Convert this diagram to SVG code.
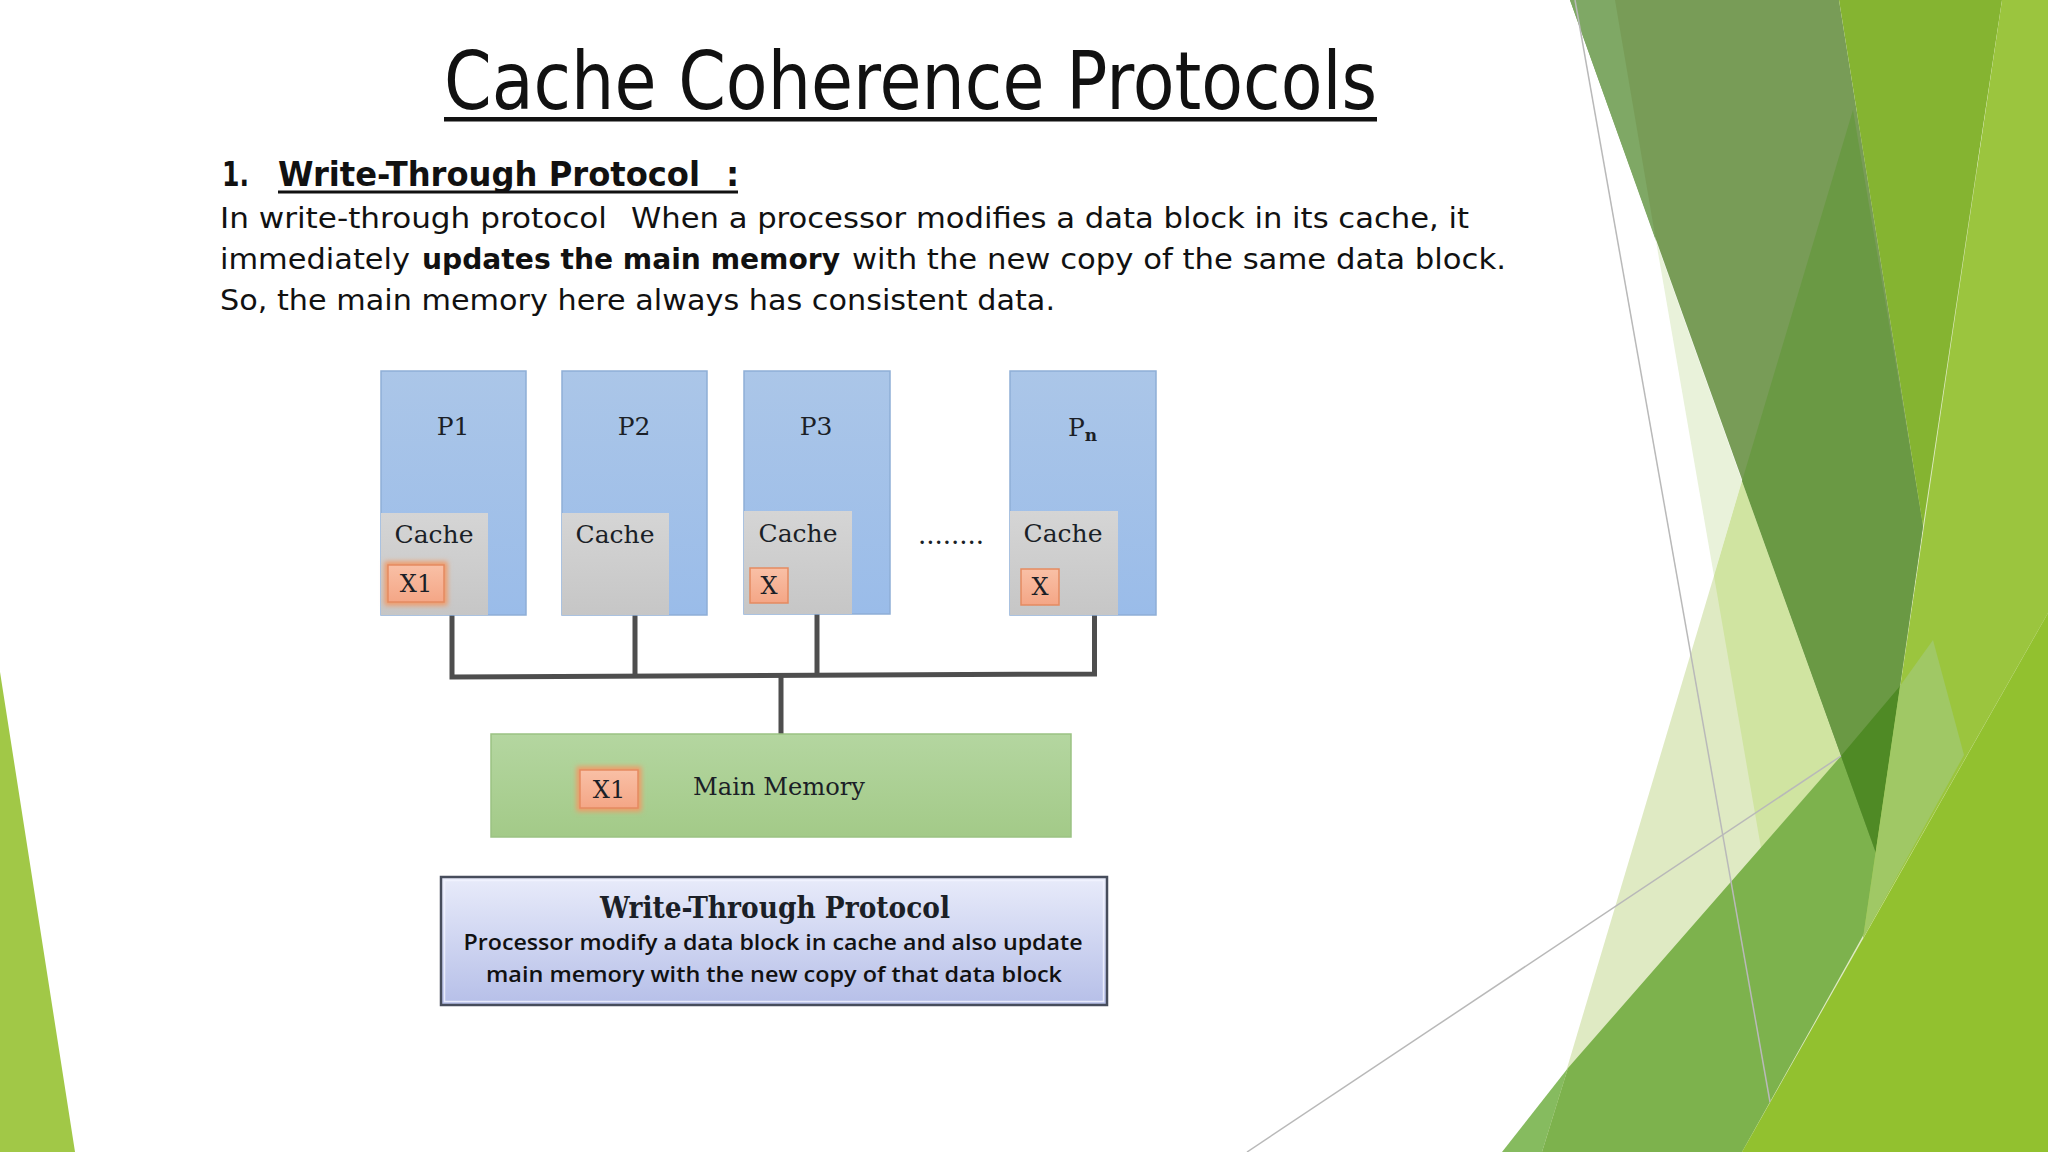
<svg xmlns="http://www.w3.org/2000/svg" width="2048" height="1152" viewBox="0 0 2048 1152">
<defs>
<style>
.sans{font-family:"DejaVu Sans","Liberation Sans",sans-serif;fill:#111}
.serif{font-family:"DejaVu Serif","Liberation Serif",serif;fill:#1b1f27}
.proc{stroke:#8eaed6;stroke-width:1.5}
.cache{fill:url(#gCache)}
.xbox{fill:url(#gX);stroke:#e58a60;stroke-width:1.5}
.glow{fill:none;stroke:#f29a66;stroke-width:7;filter:url(#blur)}
.lbl{font-size:25px;text-anchor:middle}
.conn{fill:none;stroke:#4e4e4e;stroke-width:5;stroke-linejoin:miter}
.gline{stroke:#b9b9b9;stroke-width:1.5;fill:none}
.cap{font-family:"Open Sans","Noto Sans",sans-serif;font-size:22px;font-weight:600;fill:#111}
</style>
<linearGradient id="gProc" x1="0" y1="0" x2="0" y2="1"><stop offset="0" stop-color="#abc6e8"/><stop offset="1" stop-color="#9abce9"/></linearGradient>
<linearGradient id="gCache" x1="0" y1="0" x2="0" y2="1"><stop offset="0" stop-color="#d5d5d5"/><stop offset="1" stop-color="#c6c6c6"/></linearGradient>
<linearGradient id="gX" x1="0" y1="0" x2="0" y2="1"><stop offset="0" stop-color="#f9c0a6"/><stop offset="1" stop-color="#f4a686"/></linearGradient>
<linearGradient id="gMem" x1="0" y1="0" x2="0" y2="1"><stop offset="0" stop-color="#b4d6a0"/><stop offset="1" stop-color="#a3ca88"/></linearGradient>
<linearGradient id="gWT" x1="0" y1="0" x2="0" y2="1"><stop offset="0" stop-color="#e8ebfa"/><stop offset="1" stop-color="#b6bfe8"/></linearGradient>
<filter id="blur" x="-30%" y="-30%" width="160%" height="160%"><feGaussianBlur stdDeviation="2.5"/></filter>
</defs>
<rect width="2048" height="1152" fill="#ffffff"/>

<g id="decor">
<polygon points="0,672 75,1152 0,1152" fill="#a1c847"/>
<polygon points="1853,110 2048,200 2048,1152 1542,1152" fill="#dfeac3"/>
<polygon points="1656,241 1714,576 1742,481" fill="#e9f2da"/>
<polygon points="1742,481 1714,576 1761,848 1841,756" fill="#d0e4a1"/>
<polygon points="1502,1152 1568,1068 1542,1152" fill="#86bb5f"/>
<polygon points="1568,1068 1841,756 1900,686 1933,640 1964,755 1742,1152 1542,1152" fill="#7db24d"/>
<polygon points="1570,0 1839,0 1923,526 1876,853" fill="#789c57"/>
<polygon points="1570,0 1615,0 1656,241" fill="#7fa865"/>
<polygon points="1853,110 1923,526 1876,853 1742,481" fill="#6a9944"/>
<polygon points="1841,756 1900,686 1876,853" fill="#4f8a25"/>
<polygon points="1839,0 2002,0 1923,526" fill="#85b431"/>
<polygon points="2002,0 2048,0 2048,613 1863,938" fill="#9bc53e"/>
<polygon points="1900,686 1933,640 1964,755 1863,938" fill="#a0c865"/>
<line class="gline" x1="1575" y1="0" x2="1770" y2="1102"/>
<line class="gline" x1="1247" y1="1152" x2="1841" y2="756"/>
<polygon points="1742,1152 2048,613 2048,1152" fill="#92c12f"/>
</g>

<g id="title">
<text class="sans" x="444" y="109" font-size="80" textLength="933" lengthAdjust="spacingAndGlyphs">Cache Coherence Protocols</text>
<rect x="444" y="117" width="933" height="4.5" fill="#111"/>
</g>

<g id="heading">
<text class="sans" x="222" y="186" font-size="33" font-weight="bold" textLength="27" lengthAdjust="spacingAndGlyphs">1.</text>
<text class="sans" x="278" y="186" font-size="33" font-weight="bold" textLength="422" lengthAdjust="spacingAndGlyphs">Write-Through Protocol</text>
<text class="sans" x="726" y="186" font-size="33" font-weight="bold">:</text>
<rect x="278" y="190.5" width="460" height="3" fill="#111"/>
</g>

<g id="body">
<text class="sans" x="220" y="228" font-size="28" textLength="387" lengthAdjust="spacingAndGlyphs">In write-through protocol</text>
<text class="sans" x="631" y="228" font-size="28" textLength="838" lengthAdjust="spacingAndGlyphs">When a processor modifies a data block in its cache, it</text>
<text class="sans" x="220" y="269" font-size="28" textLength="190" lengthAdjust="spacingAndGlyphs">immediately</text>
<text class="sans" x="422" y="269" font-size="28" font-weight="bold" textLength="418" lengthAdjust="spacingAndGlyphs">updates the main memory</text>
<text class="sans" x="852" y="269" font-size="28" textLength="654" lengthAdjust="spacingAndGlyphs">with the new copy of the same data block.</text>
<text class="sans" x="220" y="310" font-size="28" textLength="835" lengthAdjust="spacingAndGlyphs">So, the main memory here always has consistent data.</text>
</g>

<g id="connectors">
<path class="conn" d="M452,615 V677 L1094.5,674 V615"/>
<path class="conn" d="M635,615 V676.5 M817,614 V676 M781,675 V734"/>
</g>

<g id="p1">
<rect class="proc" x="381" y="371" width="145" height="244" fill="url(#gProc)"/>
<rect class="cache" x="381" y="513" width="107" height="102"/>
<text class="serif lbl" x="453" y="435">P1</text>
<text class="serif lbl" x="434" y="543">Cache</text>
<rect class="glow" x="388" y="565" width="56" height="37"/>
<rect class="xbox" x="388" y="565" width="56" height="37"/>
<text class="serif" x="416" y="592" font-size="24" text-anchor="middle">X1</text>
</g>

<g id="p2">
<rect class="proc" x="562" y="371" width="145" height="244" fill="url(#gProc)"/>
<rect class="cache" x="562" y="513" width="107" height="102"/>
<text class="serif lbl" x="634" y="435">P2</text>
<text class="serif lbl" x="615" y="543">Cache</text>
</g>

<g id="p3">
<rect class="proc" x="744" y="371" width="146" height="243" fill="url(#gProc)"/>
<rect class="cache" x="744" y="511" width="108" height="103"/>
<text class="serif lbl" x="816" y="435">P3</text>
<text class="serif lbl" x="798" y="542">Cache</text>
<rect class="xbox" x="750" y="568" width="38" height="35"/>
<text class="serif" x="769" y="594" font-size="24" text-anchor="middle">X</text>
</g>

<g id="dots">
<text class="serif" x="918" y="544" font-size="26" fill="#333">........</text>
</g>

<g id="pn">
<rect class="proc" x="1010" y="371" width="146" height="244" fill="url(#gProc)"/>
<rect class="cache" x="1010" y="511" width="108" height="104"/>
<text class="serif" x="1068" y="436" font-size="25">P<tspan font-size="17" font-weight="bold" dy="5">n</tspan></text>
<text class="serif lbl" x="1063" y="542">Cache</text>
<rect class="xbox" x="1021" y="569" width="38" height="36"/>
<text class="serif" x="1040" y="595" font-size="24" text-anchor="middle">X</text>
</g>

<g id="memory">
<rect x="491" y="734" width="580" height="103" fill="url(#gMem)" stroke="#9bc283" stroke-width="1.5"/>
<rect class="glow" x="580" y="770" width="58" height="38"/>
<rect class="xbox" x="580" y="770" width="58" height="38"/>
<text class="serif" x="609" y="798" font-size="24" text-anchor="middle">X1</text>
<text class="serif" x="693" y="795" font-size="25" textLength="172" lengthAdjust="spacingAndGlyphs">Main Memory</text>
</g>

<g id="legend">
<rect x="441" y="877" width="666" height="128" fill="url(#gWT)" stroke="#474d5c" stroke-width="2.5"/>
<rect x="444.5" y="880.5" width="659" height="121" fill="none" stroke="#f2f4ff" stroke-width="1.5" opacity="0.8"/>
<text class="serif" x="600" y="918" font-size="30" font-weight="bold" fill="#111" textLength="350" lengthAdjust="spacingAndGlyphs">Write-Through Protocol</text>
<text class="cap" x="463.5" y="950" textLength="619" lengthAdjust="spacingAndGlyphs">Processor modify a data block in cache and also update</text>
<text class="cap" x="486" y="982" textLength="576" lengthAdjust="spacingAndGlyphs">main memory with the new copy of that data block</text>
</g>
</svg>
